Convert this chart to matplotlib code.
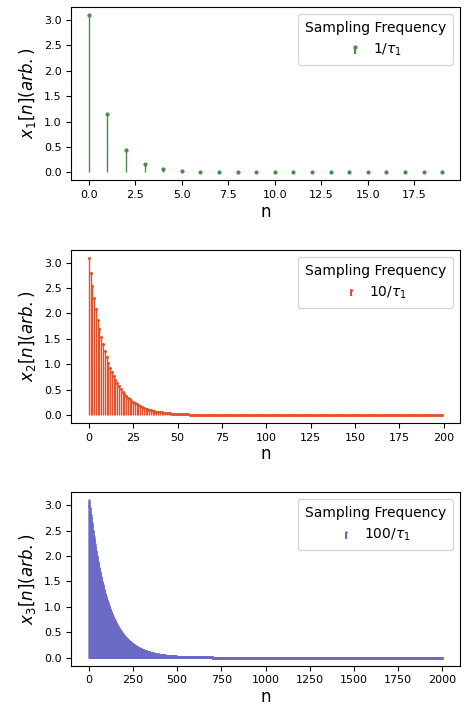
import numpy as np
import matplotlib
matplotlib.use("Agg")
import matplotlib.pyplot as plt

# Panel 1 values
n1 = np.arange(20)
x1 = [3.10, 1.15, 0.45, 0.17, 0.07, 0.03, 0.01, 0.005, 0.002, 0.001,
      0.0, 0.0, 0.0, 0.0, 0.0, 0.0, 0.0, 0.0, 0.0, 0.0]
# Panels 2 and 3: same decaying signal, sampled 10x and 100x faster
amplitude = 3.1
samples_per_tau = [10, 100]
n2 = np.arange(200)
x2 = amplitude * np.exp(-n2 / samples_per_tau[0])
n3 = np.arange(2000)
x3 = amplitude * np.exp(-n3 / samples_per_tau[1])

labels = [r"$1/\tau_1$", r"$10/\tau_1$", r"$100/\tau_1$"]
ylabels = [r"$x_1[n](arb.)$", r"$x_2[n](arb.)$", r"$x_3[n](arb.)$"]
colors = ["#4a8a4a", "#e2512a", "#6b6bc6"]
msizes = [2, 1.2, 0.8]
data = [(n1, x1), (n2, x2), (n3, x3)]

fig, axes = plt.subplots(3, 1, figsize=(4.74, 7.08), dpi=100)
for ax, (n, x), lab, yl, c, ms in zip(axes, data, labels, ylabels, colors, msizes):
    ml, sl, bl = ax.stem(n, x, linefmt=c, markerfmt='o', basefmt=' ', label=lab)
    ml.set_color(c); ml.set_markersize(ms)
    sl.set_linewidth(1.0)
    ax.set_xlabel("n", fontsize=12, labelpad=2)
    ax.set_ylabel(yl, fontsize=12)
    ax.tick_params(labelsize=8)
    ax.legend(title="Sampling Frequency", loc="upper right", fontsize=10,
              title_fontsize=10, handlelength=1, borderpad=0.5)
axes[0].set_xticks(np.arange(0, 20, 2.5))
fig.subplots_adjust(left=0.15, right=0.97, top=0.99, bottom=0.06, hspace=0.4)
fig.savefig("out.png")
